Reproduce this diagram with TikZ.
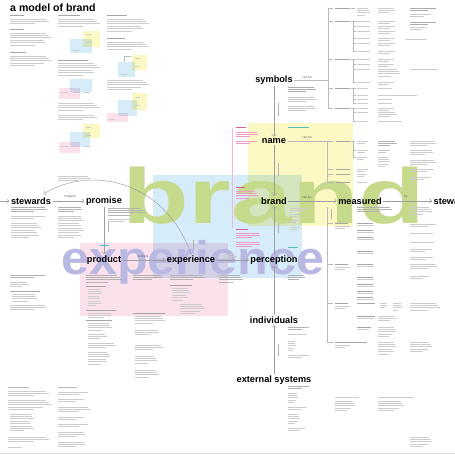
\documentclass[tikz,border=0pt]{standalone}
\usepackage{fontspec}
\setmainfont{Liberation Sans}
\usetikzlibrary{arrows.meta}
\definecolor{bgreen}{RGB}{198,218,140}
\definecolor{blav}{RGB}{184,184,226}
\definecolor{ryel}{RGB}{252,248,196}
\definecolor{rblue}{RGB}{214,236,249}
\definecolor{rpink}{RGB}{251,225,236}
\definecolor{mag}{RGB}{226,90,160}
\definecolor{tealc}{RGB}{80,190,190}
\newcommand{\tb}[5][gray!40]{\foreach \i in {1,...,#5}{\pgfmathsetmacro\ww{#4*((\i==#5)&&(#5>1) ? 0.6 : (0.8+0.066*mod(\i*5,4)))}\draw[#1,line width=0.75pt] (#2,{#3+2.4*(\i-1)}) -- ++(\ww,0);}}
\newcommand{\hb}[3]{\draw[gray!70,line width=0.8pt] (#1,#2) -- ++(#3,0);}
\begin{document}
\begin{tikzpicture}[x=1pt,y=-1pt,
  lbl/.style={font=\fontsize{9.2}{10}\selectfont\bfseries, inner sep=1.5pt},
  conn/.style={draw=gray!75, line width=0.45pt, -{Straight Barb[length=2.2pt,width=4.5pt]}},
  tree/.style={draw=gray!55, line width=0.4pt},
  rot/.style={draw=gray!60, line width=1pt},
  sm/.style={font=\fontsize{3.2}{3.6}\selectfont, text=gray!80!black, inner sep=0.5pt}]
\useasboundingbox (0,0) rectangle (455,455);
\clip (0,0) rectangle (455,455);
\fill[white] (0,0) rectangle (455,455);
% colour fields
\begin{scope}[blend mode=multiply]
\fill[rblue] (153,175) rectangle (302,278);
\fill[rpink] (80,243) rectangle (228,316);
\fill[ryel] (248,123) rectangle (353,226);
% mini diagrams top left
\fill[ryel] (83,31) rectangle (100,47); \fill[rblue] (70,39) rectangle (92,53);
\fill[rblue] (70,79) rectangle (92,92); \fill[rpink] (59,88) rectangle (80,99);
\fill[ryel] (83,124) rectangle (100,138); \fill[rblue] (70,132) rectangle (90,147); \fill[rpink] (59,142) rectangle (80,153);
\fill[ryel] (132,55) rectangle (147,70); \fill[rblue] (118,62) rectangle (135,77);
\fill[ryel] (132,93) rectangle (147,110); \fill[rblue] (118,100) rectangle (137,116); \fill[rpink] (107,113) rectangle (128,122);
\end{scope}
% big words
\node[anchor=base west, inner sep=0, text=bgreen] (bigbrand) at (122,223) {\scalebox{1.4}[1]{\fontsize{78}{78}\selectfont\bfseries brand}};
\node[anchor=base west, inner sep=0, text=blav] (bigexp) at (61,274) {\scalebox{1.07}[1]{\fontsize{47}{47}\selectfont\bfseries experience}};
\tb{86}{34}{6}{1}\tb{86}{42}{6}{1}\tb{73}{50}{7}{1}
\tb{61}{92}{8}{1}\tb{73}{92}{8}{1}\tb{84}{92}{7}{1}
\tb{86}{127}{6}{1}\tb{86}{135}{6}{1}\tb{61}{146}{8}{1}\tb{73}{146}{8}{1}\tb{84}{146}{7}{1}
\tb{135}{58}{6}{1}\tb{135}{66}{6}{1}\tb{121}{74}{7}{1}
\draw[tree] (124,56) -- (124,62) (124,56) -- (131,56);
\tb{135}{97}{6}{1}\tb{135}{105}{6}{1}\tb{121}{113}{7}{1}\tb{109}{119}{7}{1}
% title
\node[font=\fontsize{10.6}{12}\selectfont\bfseries, anchor=west, inner sep=0] (title) at (10,7.5) {a model of brand};
% left text columns
\hb{10}{15}{14}\tb{10}{19}{42}{3}
\hb{10}{29}{14}\tb{10}{33}{42}{6}
\hb{10}{52}{16}\tb{10}{56}{42}{5}
\hb{58}{15}{22}\tb{58}{19}{42}{4}
\hb{58}{60}{30}\tb{58}{63}{42}{6}
\tb{58}{103}{42}{4}\tb{58}{115}{42}{3}
\hb{107}{15}{20}\tb{107}{19}{42}{6}
\hb{107}{38}{18}\tb{107}{42}{42}{4}
\tb{107}{80}{42}{5}
% main labels
\node[lbl] (symbols) at (274,80) {symbols};
\node[lbl] (name) at (274,141) {name};
\node[lbl] (brand) at (274,201) {brand};
\node[lbl] (stewards) at (31,201) {stewards};
\node[lbl] (promise) at (104,201) {promise};
\node[lbl] (product) at (104,260) {product};
\node[lbl] (experience) at (191,260) {experience};
\node[lbl] (perception) at (274,260) {perception};
\node[lbl] (measured) at (360,201) {measured};
\node[lbl, anchor=west] (stewR) at (432,201) {stewards};
\node[lbl] (individuals) at (274,320) {individuals};
\node[lbl] (external) at (274,380) {external systems};
\coordinate (lin) at (-3,201);
% connectors
\draw[conn] (lin) -- (stewards);
\draw[conn] (stewards) -- (promise);
\draw[conn] (promise) -- (product);
\draw[conn] (product) -- (experience);
\draw[conn] (experience) -- (perception);
\draw[conn] (perception) -- (brand);
\draw[conn] (individuals) -- (perception);
\draw[conn] (external) -- (individuals);
\draw[conn] (symbols) -- (name);
\draw[conn] (name) -- (brand);
\draw[conn] (brand) -- (measured);
\draw[conn] (measured) -- (stewR);
\draw[conn] (experience.north) .. controls (165,180) and (90,165) .. ([xshift=-9pt,yshift=2pt]stewards.north east);
% arrow labels
\node[sm] at (70,196.5) {imagine};
\node[sm] at (143,256.5) {delivers};
\node[sm] at (307,197) {can be};
\node[sm] at (307,77) {can be};
\node[sm] at (307,137.5) {can be};
\node[sm] at (406,197) {by};
\draw[rot] (108,222) -- (108,232);
\draw[rot] (278,103) -- (278,116);
\draw[rot] (278,163) -- (278,176);
\draw[rot] (278,223) -- (278,233);
\draw[rot] (278,344) -- (278,356);
\draw[rot] (193,240) -- (193,249);
\draw[rot] (331,209) -- (331,219);
\tb{224}{254}{14}{3}
\tb{58}{176}{35}{3}
% tree from symbols
\draw[tree] (symbols.east) -- (328,80);
\draw[tree] (328,8) -- (328,108);
\foreach \y in {8,21,59,88,108} {\draw[tree] (328,\y) -- (333,\y); \hb{335}{\y}{15} \draw[tree] (351,\y) -- (355,\y);}
\tb{357}{8}{13}{4}\tb{378}{8}{18}{3}
\tb[gray!65]{410}{8}{30}{2}\tb{410}{14}{24}{2}\tb[gray!65]{410}{22}{30}{2}\tb{410}{27}{20}{2}
\draw[tree] (353,21) -- (353,51);
\foreach \y in {21,26,31,38,43,51} {\draw[tree] (353,\y) -- (356,\y); \tb{357}{\y}{15}{1}\tb{378}{\y}{20}{2}}
\tb{405}{39}{25}{1}
\draw[tree] (353,59) -- (353,82);
\foreach \y in {59,64,82} {\draw[tree] (353,\y) -- (356,\y); \tb{357}{\y}{15}{1}\tb{378}{\y}{18}{2}}
\draw[tree] (353,69) -- (356,69); \tb{357}{69}{15}{1}\tb{378}{69}{22}{4}\tb{410}{69}{32}{1}
\draw[tree] (353,88) -- (353,103);
\foreach \y in {88,99,103} {\draw[tree] (353,\y) -- (356,\y); \tb{357}{\y}{13}{1}\tb{378}{\y}{16}{1}}
\draw[tree] (353,95) -- (356,95); \tb{357}{95}{13}{1}\tb{378}{95}{45}{1}
\draw[tree] (353,108) -- (353,121);
\foreach \y in {108,112,121} {\draw[tree] (353,\y) -- (356,\y); \tb{357}{\y}{13}{1}}
\tb{378}{108}{18}{2}\tb{378}{112}{20}{3}\tb{378}{121}{28}{1}
\tb[gray!65]{288}{87}{30}{3}\tb{288}{97}{30}{3}\tb{288}{106}{30}{3}
% tree from name
\tb[tealc]{288}{127}{24}{1}
\draw[tree] (name.east) -- (327,141);
\draw[tree] (327,141) -- (327,182);
\foreach \y in {141,169,174,182} {\draw[tree] (327,\y) -- (333,\y); \hb{336}{\y}{14}}
\draw[tree] (351,141) -- (355,141) (353,141) -- (353,157) (353,150) -- (356,150) (353,157) -- (356,157);
\tb{357}{141}{13}{2}\tb[gray!60]{378}{141}{20}{3}\tb{410}{141}{28}{3}
\tb{357}{150}{13}{2}\tb{378}{150}{14}{2}\tb{410}{150}{25}{3}
\tb{357}{157}{12}{2}\tb{378}{157}{12}{5}\tb{410}{160}{28}{3}
\tb{357}{169}{13}{2}\tb{410}{169}{28}{2}
\tb{357}{174}{12}{2}\tb{357}{182}{12}{1}\tb{410}{177}{24}{2}
% brand / measured blocks
\tb{290}{208}{22}{2}\tb{290}{214}{12}{2}\tb{290}{220}{10}{2}\tb{290}{227}{12}{2}
\tb[gray!60]{357}{207}{38}{3}\tb{410}{207}{22}{4}
\draw[tree] (327,207) -- (327,342);
\foreach \y in {223,264,303,342} {\draw[tree] (327,\y) -- (333,\y); \hb{335}{\y}{13}\tb{335}{\y+3}{17}{2}}
\foreach \y in {223,230,237,251,264,277,284,291,297} {\hb{357}{\y}{16}\tb{357}{\y+2.5}{20}{1}}
\tb{410}{224}{30}{2}\tb{410}{233}{26}{1}\tb{410}{242}{28}{1}\tb{410}{249}{25}{2}\tb{410}{257}{26}{2}
\tb{410}{264}{30}{3}\tb{410}{276}{22}{2}
\hb{357}{303}{18}\tb{380}{303}{8}{3}\tb{393}{303}{9}{4}\tb{410}{303}{30}{4}
\hb{357}{316}{18}\tb{357}{318.5}{18}{1}\tb{378}{316}{20}{3}
\hb{357}{327}{14}\tb{357}{329.5}{14}{1}\tb{378}{327}{18}{5}
\hb{335}{342}{32}\tb{378}{342}{18}{6}\tb{410}{342}{22}{5}
\tb{335}{397}{28}{1}\tb{378}{397}{42}{1}\tb{335}{401}{20}{5}\tb{378}{401}{26}{5}
\tb{410}{437}{22}{5}
% pink cognitive column
\draw[mag!45, line width=0.4pt] (232,128) -- (232,228);
\tb[mag]{236}{127}{12}{1}\tb[mag!60]{236}{132}{24}{3}\tb[mag!60]{236}{141}{24}{2}
\tb[mag]{236}{187}{10}{1}\tb[mag!60]{236}{191}{22}{4}
\tb[mag]{236}{229}{14}{1}\tb[mag!60]{236}{233}{26}{3}\tb[mag!60]{236}{242}{26}{3}
\tb[tealc]{288}{247}{12}{1}\tb[tealc]{100}{245}{10}{1}
% text blocks around the flow
\tb[gray!60]{11}{207}{39}{3}\tb{11}{216}{39}{2}\tb{11}{223}{30}{7}
\tb[gray!60]{58}{207}{26}{3}\tb{58}{216}{26}{10}
\tb[gray!60]{108}{208}{38}{4}\tb{108}{219}{26}{2}
\tb[gray!60]{10}{275}{40}{2}\tb{10}{282}{20}{3}\hb{10}{291}{30}\tb{12}{294}{26}{4}\tb{10}{305}{40}{3}
\tb[gray!60]{86}{275}{36}{4}\hb{86}{286}{20}\tb{88}{289}{14}{8}\hb{86}{310}{30}\tb{88}{313}{26}{3}
\hb{86}{320}{26}\tb{88}{323}{24}{4}\tb{88}{334}{20}{3}\tb{88}{343}{30}{3}\tb{88}{352}{22}{6}
\tb[gray!60]{133}{275}{32}{3}\hb{133}{313}{32}\tb{135}{316}{30}{4}\tb{135}{330}{26}{3}
\tb{135}{345}{30}{3}\tb{135}{356}{22}{4}\tb{135}{370}{24}{4}
\tb[gray!60]{170}{275}{38}{3}\hb{170}{285}{22}\tb{172}{288}{18}{6}\tb{180}{304}{25}{5}
\tb[gray!60]{219}{275}{24}{4}\tb[gray!60]{288}{275}{18}{3}
\tb[gray!60]{288}{327}{24}{2}\tb{288}{334}{22}{1}\tb{288}{341}{8}{5}\tb{288}{355}{24}{2}
\tb[gray!60]{288}{386}{24}{2}\tb{288}{393}{10}{5}\tb{288}{407}{22}{2}\tb{288}{414}{12}{5}\tb{288}{428}{20}{2}
% bottom left
\tb[gray!55]{8}{387}{24}{1}\tb{8}{391}{44}{3}\tb{8}{400}{44}{5}\tb{10}{414}{24}{8}\tb{8}{437}{44}{3}\tb{8}{447}{16}{1}
\tb[gray!55]{58}{387}{22}{1}\tb{58}{392}{35}{2}\tb{58}{399}{30}{2}\tb{58}{407}{35}{3}\tb{58}{417}{30}{2}
\tb{58}{424}{35}{2}\tb{58}{432}{30}{3}\tb{58}{442}{30}{3}
\draw[gray!25, line width=1pt] (0,453.5) -- (455,453.5);
\end{tikzpicture}
\end{document}
